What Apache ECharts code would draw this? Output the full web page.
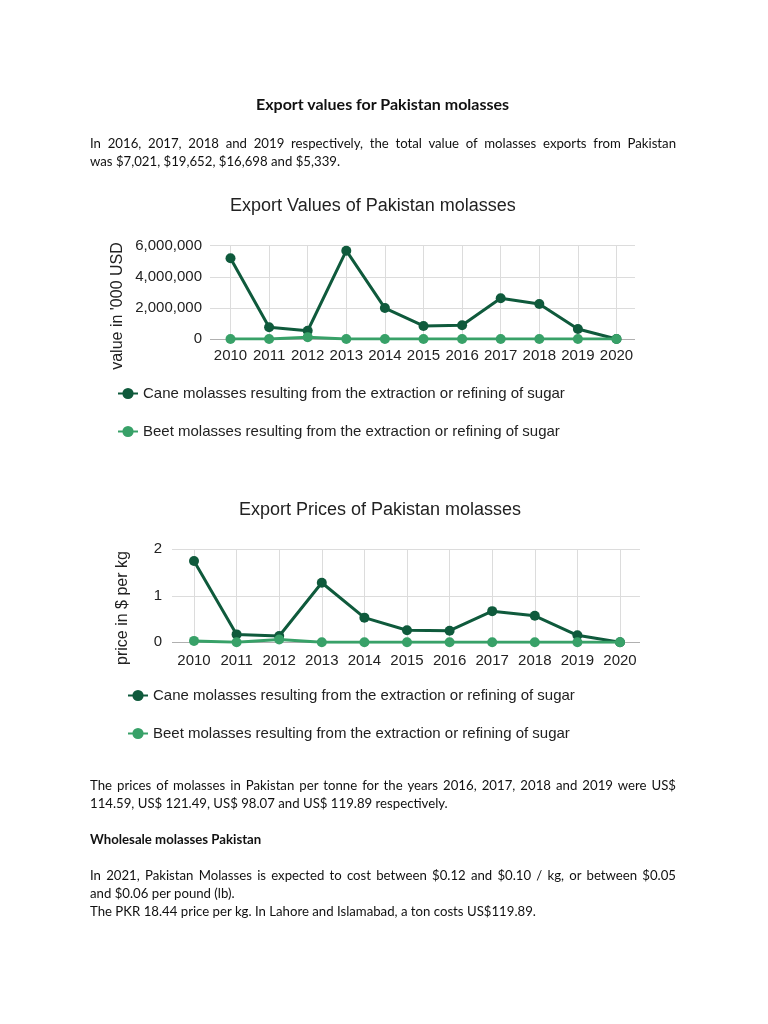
<!DOCTYPE html>
<html>
<head>
<meta charset="utf-8">
<script src="https://cdn.jsdelivr.net/npm/echarts@6/dist/echarts.min.js"></script>
<style>
  html, body { margin: 0; padding: 0; background: #fff; }
  #page { position: relative; width: 768px; height: 1024px; overflow: hidden; }
  #chart { position: absolute; left: 0; top: 0; width: 768px; height: 1024px; }
  .t { position: absolute; font-family: Lato, "Open Sans", sans-serif; font-size: 13.2px; line-height: 18px; color: #111; white-space: nowrap; }
  .b { font-weight: bold; }
  .h { font-size: 16px; }
  .j { width: 586px; text-align: justify; text-align-last: justify; white-space: normal; }
</style>
</head>
<body>
<div id="page">
  <div id="chart"></div>
  <div class="t b h" style="left:256px; top:95px;">Export values for Pakistan molasses</div>
  <div class="t j" style="left:90px; top:134px;">In 2016, 2017, 2018 and 2019 respectively, the total value of molasses exports from Pakistan</div>
  <div class="t" style="left:90px; top:152px;">was $7,021, $19,652, $16,698 and $5,339.</div>
  <div class="t j" style="left:90px; top:776px;">The prices of molasses in Pakistan per tonne for the years 2016, 2017, 2018 and 2019 were US$</div>
  <div class="t" style="left:90px; top:794px;">114.59, US$ 121.49, US$ 98.07 and US$ 119.89 respectively.</div>
  <div class="t b" style="left:90px; top:830px;">Wholesale molasses Pakistan</div>
  <div class="t j" style="left:90px; top:866px;">In 2021, Pakistan Molasses is expected to cost between $0.12 and $0.10 / kg, or between $0.05</div>
  <div class="t" style="left:90px; top:884px;">and $0.06 per pound (lb).</div>
  <div class="t" style="left:90px; top:902px;">The PKR 18.44 price per kg. In Lahore and Islamabad, a ton costs US$119.89.</div>
</div>
<script>
const years = ['2010','2011','2012','2013','2014','2015','2016','2017','2018','2019','2020'];
const seriesNames = ['Cane molasses resulting from the extraction or refining of sugar',
                     'Beet molasses resulting from the extraction or refining of sugar'];
// Export values (in '000 USD)
const caneValues = [5190000, 750000, 530000, 5680000, 1990000, 840000, 880000, 2620000, 2250000, 640000, 0];
const beetValues = [0, 0, 120000, 0, 0, 0, 0, 0, 0, 0, 0];
// Export prices ($ per kg)
const canePrices = [1.75, 0.17, 0.135, 1.28, 0.53, 0.26, 0.25, 0.67, 0.57, 0.15, 0];
const beetPrices = [0.03, 0, 0.06, 0, 0, 0, 0, 0, 0, 0, 0];

const chartTitles = ['Export Values of Pakistan molasses', 'Export Prices of Pakistan molasses'];
const yAxisNames = ["value in '000 USD", 'price in $ per kg'];

const caneColor = '#0f5a3c';
const beetColor = '#38a168';
const gridColor = '#dcdcdc';
const baseColor = '#b0b0b0';
const labelFont = { fontFamily: 'Arial, "Liberation Sans", sans-serif', fontSize: 15, color: '#222' };

const chart = echarts.init(document.getElementById('chart'), null, { renderer: 'canvas' });

function lineSeries(name, data, color, xi, yi, z) {
  return {
    name: name, type: 'line', data: data, xAxisIndex: xi, yAxisIndex: yi,
    symbol: 'circle', symbolSize: 10, showSymbol: true, z: z,
    lineStyle: { color: color, width: 3 },
    itemStyle: { color: color },
    emphasis: { disabled: true }, animation: false
  };
}

const option = {
  animation: false,
  title: [
    { text: chartTitles[0], left: 230, top: 197, padding: 0,
      textStyle: { fontFamily: 'Arial, "Liberation Sans", sans-serif', fontSize: 18, fontWeight: 'normal', color: '#222' } },
    { text: chartTitles[1], left: 239, top: 501, padding: 0,
      textStyle: { fontFamily: 'Arial, "Liberation Sans", sans-serif', fontSize: 18, fontWeight: 'normal', color: '#222' } }
  ],
  legend: [
    { data: seriesNames, orient: 'vertical', left: 117, top: 386, itemGap: 23, itemWidth: 20, itemHeight: 14, padding: 0,
      selectedMode: false, textStyle: labelFont },
    { data: seriesNames, orient: 'vertical', left: 127, top: 688, itemGap: 23, itemWidth: 20, itemHeight: 14, padding: 0,
      selectedMode: false, textStyle: labelFont }
  ],
  grid: [
    { left: 210, width: 425, top: 245.7, height: 93.3 },
    { left: 230.5, width: 386, top: 245.7, height: 93.3 },
    { left: 172, width: 468, top: 549.3, height: 93 },
    { left: 194, width: 426, top: 549.3, height: 93 }
  ],
  xAxis: [
    { gridIndex: 0, type: 'value', show: false },
    { gridIndex: 1, type: 'category', data: years, boundaryGap: false,
      axisLine: { show: false }, axisTick: { show: false },
      axisLabel: Object.assign({ margin: 9, interval: 0 }, labelFont),
      splitLine: { show: true, lineStyle: { color: gridColor, width: 1 } } },
    { gridIndex: 2, type: 'value', show: false },
    { gridIndex: 3, type: 'category', data: years, boundaryGap: false,
      axisLine: { show: false }, axisTick: { show: false },
      axisLabel: Object.assign({ margin: 11, interval: 0 }, labelFont),
      splitLine: { show: true, lineStyle: { color: gridColor, width: 1 } } }
  ],
  yAxis: [
    { gridIndex: 0, type: 'value', min: 0, max: 6000000, interval: 2000000,
      axisLine: { show: false }, axisTick: { show: false },
      axisLabel: Object.assign({ margin: 8, formatter: v => v.toLocaleString('en-US') }, labelFont),
      splitLine: { show: true, lineStyle: { color: [baseColor, gridColor, gridColor, gridColor], width: 1 } } },
    { gridIndex: 1, type: 'value', min: 0, max: 6000000, show: false, splitLine: { show: false } },
    { gridIndex: 2, type: 'value', min: 0, max: 2, interval: 1,
      axisLine: { show: false }, axisTick: { show: false },
      axisLabel: Object.assign({ margin: 10 }, labelFont),
      splitLine: { show: true, lineStyle: { color: [baseColor, gridColor, gridColor], width: 1 } } },
    { gridIndex: 3, type: 'value', min: 0, max: 2, show: false, splitLine: { show: false } }
  ],
  graphic: [
    { type: 'text', x: 118, y: 306, rotation: Math.PI / 2,
      style: { text: yAxisNames[0], x: 0, y: 0, textAlign: 'center', textVerticalAlign: 'middle',
               font: '16px Arial, "Liberation Sans", sans-serif', fill: '#222' } },
    { type: 'text', x: 123, y: 608, rotation: Math.PI / 2,
      style: { text: yAxisNames[1], x: 0, y: 0, textAlign: 'center', textVerticalAlign: 'middle',
               font: '16px Arial, "Liberation Sans", sans-serif', fill: '#222' } }
  ],
  series: [
    lineSeries(seriesNames[0], caneValues, caneColor, 1, 1, 3),
    lineSeries(seriesNames[1], beetValues, beetColor, 1, 1, 4),
    lineSeries(seriesNames[0], canePrices, caneColor, 3, 3, 3),
    lineSeries(seriesNames[1], beetPrices, beetColor, 3, 3, 4)
  ]
};
chart.setOption(option);
</script>
</body>
</html>
